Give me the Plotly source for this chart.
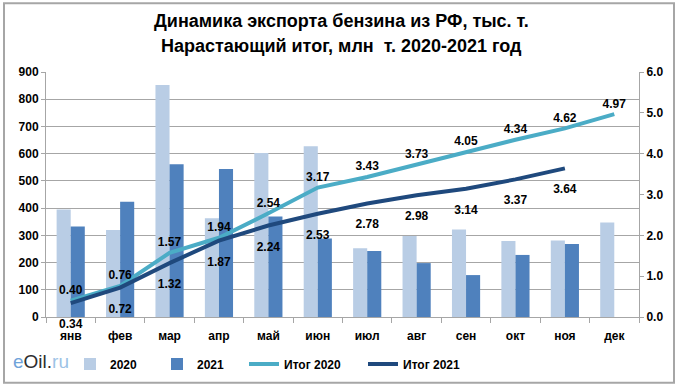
import plotly.graph_objects as go
from plotly.subplots import make_subplots

months = ["янв", "фев", "мар", "апр", "май", "июн", "июл", "авг", "сен", "окт", "ноя", "дек"]
exp_2020 = [395, 320, 852, 363, 602, 627, 253, 298, 321, 279, 281, 347]
exp_2021 = [332, 423, 561, 544, 369, 288, 242, 198, 154, 228, 268]
cum_2020 = [0.40, 0.76, 1.57, 1.94, 2.54, 3.17, 3.43, 3.73, 4.05, 4.34, 4.62, 4.97]
cum_2021 = [0.34, 0.72, 1.32, 1.87, 2.24, 2.53, 2.78, 2.98, 3.14, 3.37, 3.64]
title_lines = ["Динамика экспорта бензина из РФ, тыс. т.", "Нарастающий итог, млн  т. 2020-2021 год"]

W, H = 682, 389
L, R, T, B = 46, 43, 72, 71
PW, PH = W - L - R, H - T - B


def px(x):
    return (x - L) / PW


def py(y):
    return (H - B - y) / PH


FONT = "Liberation Sans, Arial, sans-serif"
LEG_Y = 364

fig = make_subplots(specs=[[{"secondary_y": True}]])

fig.add_trace(go.Bar(x=months, y=exp_2020, name="2020", legend="legend",
                     marker=dict(color="#B9CDE5", line=dict(width=0))),
              secondary_y=False)
fig.add_trace(go.Bar(x=months[:len(exp_2021)], y=exp_2021, name="2021", legend="legend2",
                     marker=dict(color="#4F81BD", line=dict(width=0))), secondary_y=False)
fig.add_trace(go.Scatter(x=months, y=cum_2020, name="Итог 2020", legend="legend3",
                         mode="lines+markers+text", cliponaxis=False,
                         line=dict(color="#4BACC6", width=4),
                         marker=dict(size=4, color="rgba(0,0,0,0)"),
                         text=[f"{v:.2f}" for v in cum_2020], textposition="top center",
                         textfont=dict(family=FONT, size=12, color="#000000", weight="bold")),
              secondary_y=True)
fig.add_trace(go.Scatter(x=months[:len(cum_2021)], y=cum_2021, name="Итог 2021", legend="legend4",
                         mode="lines+markers+text", cliponaxis=False,
                         line=dict(color="#1F497D", width=4),
                         marker=dict(size=24, color="rgba(0,0,0,0)"),
                         text=[f"{v:.2f}" for v in cum_2021], textposition="bottom center",
                         textfont=dict(family=FONT, size=12, color="#000000", weight="bold")),
              secondary_y=True)

leg_common = dict(orientation="h", xanchor="left", y=py(LEG_Y), yanchor="middle",
                  font=dict(family=FONT, size=12, color="#000000", weight="bold"),
                  bgcolor="rgba(0,0,0,0)", borderwidth=0)

fig.update_layout(
    width=W, height=H,
    margin=dict(l=L, r=R, t=T, b=B),
    paper_bgcolor="white", plot_bgcolor="white",
    barmode="group", bargap=0.43, bargroupgap=0,
    font=dict(family=FONT, size=12, color="#000000"),
    legend=dict(x=px(70), **leg_common),
    legend2=dict(x=px(157), **leg_common),
    legend3=dict(x=px(244), **leg_common),
    legend4=dict(x=px(363), **leg_common),
    showlegend=True,
)

fig.update_xaxes(type="category", domain=[0, 1], range=[-0.5, len(months) - 0.5],
                 showline=True, linecolor="#A6A6A6", linewidth=1,
                 ticks="outside", ticklen=5, tickcolor="#A6A6A6", tickson="boundaries",
                 showgrid=False, ticklabelstandoff=8,
                 tickfont=dict(family=FONT, size=12, color="#000000", weight="bold"))
fig.update_yaxes(range=[0, 900], dtick=100, showgrid=True, gridcolor="#A6A6A6", gridwidth=1,
                 showline=True, linecolor="#A6A6A6", ticks="outside", ticklen=4, tickcolor="#A6A6A6",
                 zeroline=False,
                 tickfont=dict(family=FONT, size=12, color="#000000", weight="bold"),
                 secondary_y=False)
fig.update_yaxes(range=[0, 6], dtick=1, tickformat=".1f", showgrid=False,
                 showline=True, linecolor="#A6A6A6", ticks="outside", ticklen=4, tickcolor="#A6A6A6",
                 zeroline=False,
                 tickfont=dict(family=FONT, size=12, color="#000000", weight="bold"),
                 secondary_y=True)

# title lines
for txt, yc in zip(title_lines, [21, 46]):
    fig.add_annotation(xref="paper", yref="paper", x=px(341), y=py(yc), xanchor="center", yanchor="middle",
                       showarrow=False, text=f"<b>{txt}</b>",
                       font=dict(family=FONT, size=18, color="#000000"))

# outer frame
fig.add_shape(type="rect", xref="paper", yref="paper", x0=px(4), x1=px(674), y0=py(384), y1=py(3),
              line=dict(color="#A6A6A6", width=2), fillcolor="rgba(0,0,0,0)", layer="below")

# logo
fig.add_annotation(xref="paper", yref="paper", x=px(11), y=py(363), xanchor="left", yanchor="middle",
                   showarrow=False,
                   text="<span style='color:#6FA3DA'>e</span><span style='color:#2E2E2E'>Oil</span>"
                        "<span style='color:#2E2E2E'>.</span><span style='color:#9DC3E6'>ru</span>",
                   font=dict(family=FONT, size=19))

fig.write_html("out.html", config={"displayModeBar": False},
               post_script="document.body.style.margin='0';document.body.style.overflow='hidden';")
